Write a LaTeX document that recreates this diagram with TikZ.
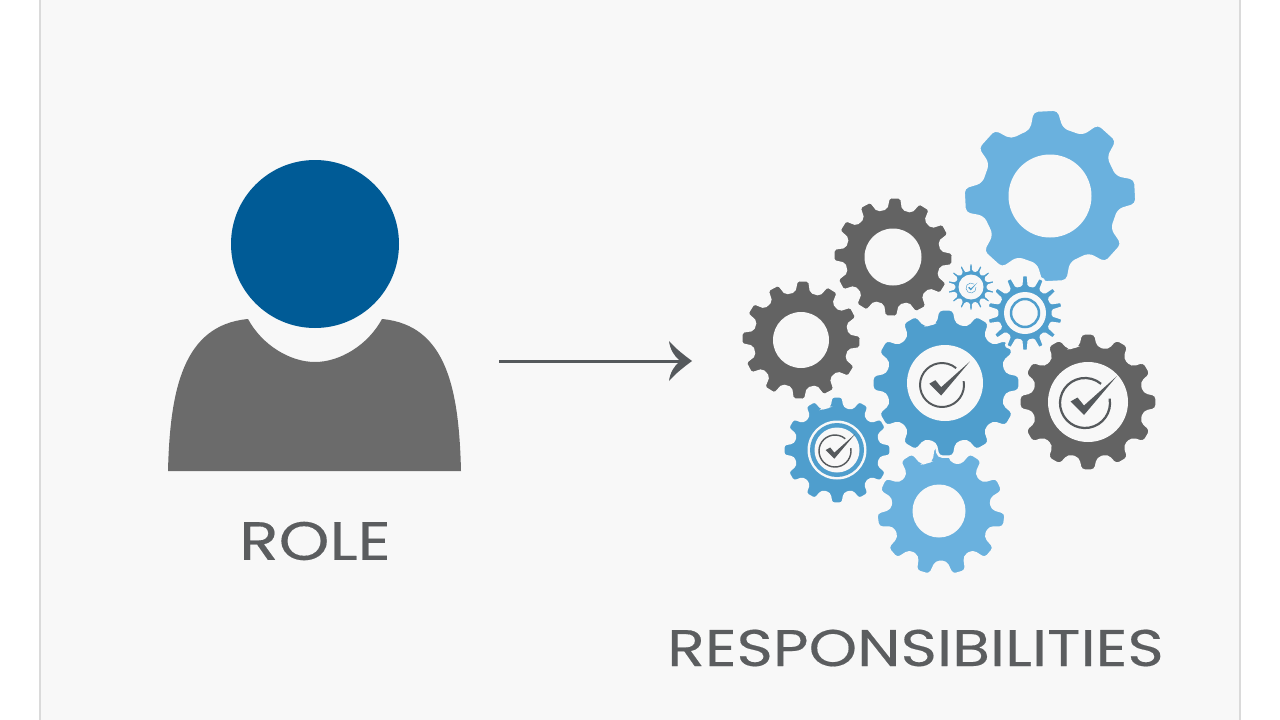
\documentclass[tikz,border=0pt]{standalone}
\usepackage{fontspec}
\setmainfont{Poppins}
\newfontfamily\titlefont[FakeStretch = 1.2, FakeBold = 0.3]{Poppins}
\usetikzlibrary{arrows.meta}

\definecolor{panelbg}{HTML}{F8F8F8}
\definecolor{panelline}{HTML}{DADADA}
\definecolor{headblue}{HTML}{005B96}
\definecolor{bodygray}{HTML}{6B6B6B}
\definecolor{geargray}{HTML}{636363}
\definecolor{gearlight}{HTML}{6AB1DE}
\definecolor{gearmid}{HTML}{4F9ECD}
\definecolor{textgray}{HTML}{5B5D5F}
\definecolor{arrowgray}{HTML}{55595C}

\tikzset{
	gearfill/.style = {draw = panelbg, line width = 2.5pt},
	title/.style = {text = textgray, inner sep = 0pt}
}

% x, y, outer radius, root radius, teeth, rotation, colour, corner radius, tooth width
\newcommand{\gearshape}[9]{
	\pgfmathsetmacro{\gearstep}{360/#5}
	\pgfmathsetmacro{\gearbase}{(#9+0.13)*\gearstep}
	\pgfmathsetmacro{\geartop}{#9*\gearstep}
	\pgfmathtruncatemacro{\gearlast}{#5-1}
	\begin{scope}[shift = {(#1,#2)}]
		\path [gearfill, fill = #7, rounded corners = #8] (#6-\gearstep/2:#4)
			\foreach \i [evaluate = \i as \a using {#6+\i*\gearstep}] in {0,...,\gearlast} {
				-- (\a-\gearbase:#4) -- (\a-\geartop:#3) -- (\a+\geartop:#3) -- (\a+\gearbase:#4)
			} -- cycle;
	\end{scope}
}

% x, y, ring radius, line colour
\newcommand{\checkring}[4]{
	\begin{scope}[shift = {(#1,#2)}, x = #3pt, y = -#3pt]
		\draw [#4, line width = 0.09*#3pt] (-10:1) arc [start angle = -10, end angle = 310, radius = 1];
		\fill [#4] (-0.58,-0.06) -- (-0.3,-0.22) -- (-0.04,0.1) -- (1.27,-1.07) -- (-0.04,0.48) -- cycle;
	\end{scope}
}

\begin{document}
\begin{tikzpicture}[x = 1pt, y = -1pt]
	\useasboundingbox (0,0) rectangle (1280,720);

	\fill [white] (0,0) rectangle (1280,720);
	\fill [panelbg] (40,0) rectangle (1240,720);
	\draw [panelline, line width = 1.2pt] (40,0) -- (40,720);
	\draw [panelline, line width = 1.2pt] (1240,0) -- (1240,720);

	\fill [headblue] (315,244) circle [radius = 84];
	\fill [bodygray] (168,471) .. controls (170,390) and (183,325) .. (248,319)
		.. controls (262,345) and (290,362) .. (315,362)
		.. controls (340,362) and (368,345) .. (382,319)
		.. controls (447,325) and (459,390) .. (461,471) -- cycle;

	\node [title, font = \titlefont\fontsize{54}{60}\selectfont] (role) at (315,541) {ROLE};

	\coordinate (arrowstart) at (499,361);
	\coordinate (arrownotch) at (684,361);
	\coordinate (arrowend) at (692,361);
	\draw [arrowgray, line width = 3pt] (arrowstart) -- (arrownotch);
	\fill [arrowgray] (arrowend) .. controls (684,355) and (676,349) .. (669,341)
		.. controls (670,349) and (674,356) .. (680,361)
		.. controls (674,366) and (670,373) .. (669,381)
		.. controls (676,373) and (684,367) .. (arrowend) -- cycle;

	\gearshape{941}{511}{65}{51}{11}{-90}{gearlight}{4pt}{0.2}
	\gearshape{1050}{196}{87}{70}{8}{-93}{gearlight}{5pt}{0.19}
	\gearshape{893}{257}{60}{49}{12}{-88}{geargray}{2pt}{0.2}
	\gearshape{801}{340}{60}{49}{12}{-88}{geargray}{2pt}{0.2}
	\gearshape{1088}{402}{69}{57}{12}{-90}{geargray}{4pt}{0.2}
	\gearshape{946}{383}{74}{61}{12}{-90}{gearmid}{4pt}{0.2}
	\gearshape{837}{450}{54}{44}{12}{-90}{gearmid}{3pt}{0.2}
	\gearshape{1025}{313}{38}{28}{14}{-90}{gearmid}{1pt}{0.17}
	\gearshape{971}{287}{24}{17}{14}{-90}{gearmid}{1pt}{0.17}

	\fill [panelbg] (1050,196) circle [radius = 41.5];
	\fill [panelbg] (893,257) circle [radius = 28.5];
	\fill [panelbg] (801,340) circle [radius = 28];
	\fill [panelbg] (939,511) circle [radius = 26.5];
	\fill [panelbg] (945,383) circle [radius = 38];
	\fill [panelbg] (1088,402) circle [radius = 40];

	\checkring{942}{385}{22}{arrowgray}
	\checkring{1085}{403}{25}{arrowgray}

	\fill [panelbg] (837,450) circle [radius = 29.5];
	\fill [gearmid] (837,450) circle [radius = 27];
	\fill [panelbg] (837,450) circle [radius = 22.5];
	\checkring{835}{451}{16}{arrowgray}

	\fill [panelbg] (1025,313) circle [radius = 21];
	\draw [gearmid, line width = 2.5pt] (1025,313) circle [radius = 14];

	\fill [panelbg] (971,287) circle [radius = 12.5];
	\checkring{971}{288}{5}{gearmid}

	\node [title, font = \titlefont\fontsize{51.5}{60}\selectfont] (responsibilities) at (915.5,648) {RESPONSIBILITIES};
\end{tikzpicture}
\end{document}
